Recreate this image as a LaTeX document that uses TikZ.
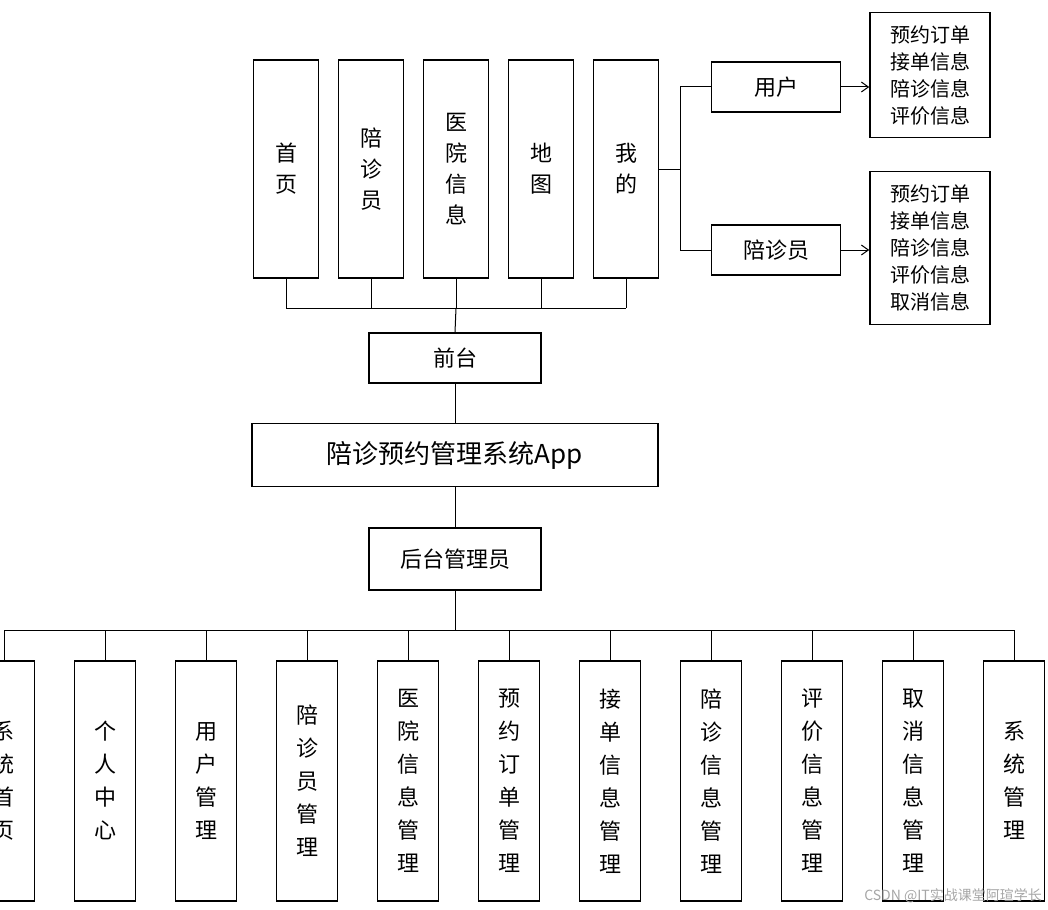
\documentclass[tikz,border=0pt]{standalone}
\usepackage{fontspec}
\newfontfamily\cjk{Noto Sans CJK SC}
\usetikzlibrary{arrows.meta}
\begin{document}
\begin{tikzpicture}[x=1pt,y=-1pt,
  bx/.style={draw,line width=1.6pt,font=\cjk\fontsize{22}{31}\selectfont,align=center,inner sep=0pt},
  ln/.style={line width=1pt},
  ar/.style={line width=1pt,-{Straight Barb[length=7pt,width=10pt]}}]
\useasboundingbox (0,0) rectangle (1048,909);
\clip (0,0) rectangle (1048,909);
% top boxes
\foreach \n/\x/\t in {a/286/首\\页, b/371/陪\\诊\\员, c/456/医\\院\\信\\息, d/541/地\\图, e/626/我\\的}{
  \node[bx,minimum width=65,minimum height=218] (\n) at (\x,169) {\t};
  \draw[ln] (\n.south) -- (\x,308);
}
\draw[ln] (286,308) -- (626,308);
\node[bx,minimum width=172,minimum height=50] (qt) at (455,358) {前台};
\draw[ln] (456,308) -- (qt.north);
\node[bx,minimum width=406,minimum height=63,font=\cjk\fontsize{26}{30}\selectfont] (app) at (455,455) {陪诊预约管理系统App};
\draw[ln] (qt.south) -- (app.north);
\node[bx,minimum width=172,minimum height=62] (ht) at (455,559) {后台管理员};
\draw[ln] (app.south) -- (ht.north);
\draw[ln] (ht.south) -- (455,630);
\draw[ln] (4,630) -- (1014,630);
% right side
\node[bx,minimum width=129,minimum height=50] (yh) at (776,87) {用户};
\node[bx,minimum width=129,minimum height=50] (pz) at (776,250) {陪诊员};
\coordinate (j) at (680,170);
\draw[ln] (e.east |- j) -- (j);
\draw[ln] (680,87) -- (680,250);
\draw[ln] (680,87) -- (yh.west);
\draw[ln] (680,250) -- (pz.west);
\node[bx,minimum width=120,minimum height=125,font=\cjk\fontsize{20}{27}\selectfont] (r1) at (930,75) {预约订单\\接单信息\\陪诊信息\\评价信息};
\node[bx,minimum width=120,minimum height=153,font=\cjk\fontsize{20}{27}\selectfont] (r2) at (930,248) {预约订单\\接单信息\\陪诊信息\\评价信息\\取消信息};
\draw[ar] (yh.east) -- (r1.west |- yh.east);
\draw[ar] (pz.east) -- (r2.west |- pz.east);
% bottom boxes
\foreach \n/\x/\t in {s1/4/系\\统\\首\\页, s2/105/个\\人\\中\\心, s3/206/用\\户\\管\\理, s4/307/陪\\诊\\员\\管\\理, s5/408/医\\院\\信\\息\\管\\理, s6/509/预\\约\\订\\单\\管\\理, s7/610/接\\单\\信\\息\\管\\理, s8/711/陪\\诊\\信\\息\\管\\理, s9/812/评\\价\\信\\息\\管\\理, s10/913/取\\消\\信\\息\\管\\理, s11/1014/系\\统\\管\\理}{
  \node[bx,anchor=north,minimum width=61,minimum height=240,font=\cjk\fontsize{22}{33}\selectfont] (\n) at (\x,660) {\t};
  \draw[ln] (\x,630) -- (\n.north);
}
\node[anchor=south east,font=\cjk\fontsize{14}{16}\selectfont,text=gray!70,inner sep=2pt] (wm) at (1044,905) {CSDN @IT实战课堂阿瑄学长};
\end{tikzpicture}
\end{document}
